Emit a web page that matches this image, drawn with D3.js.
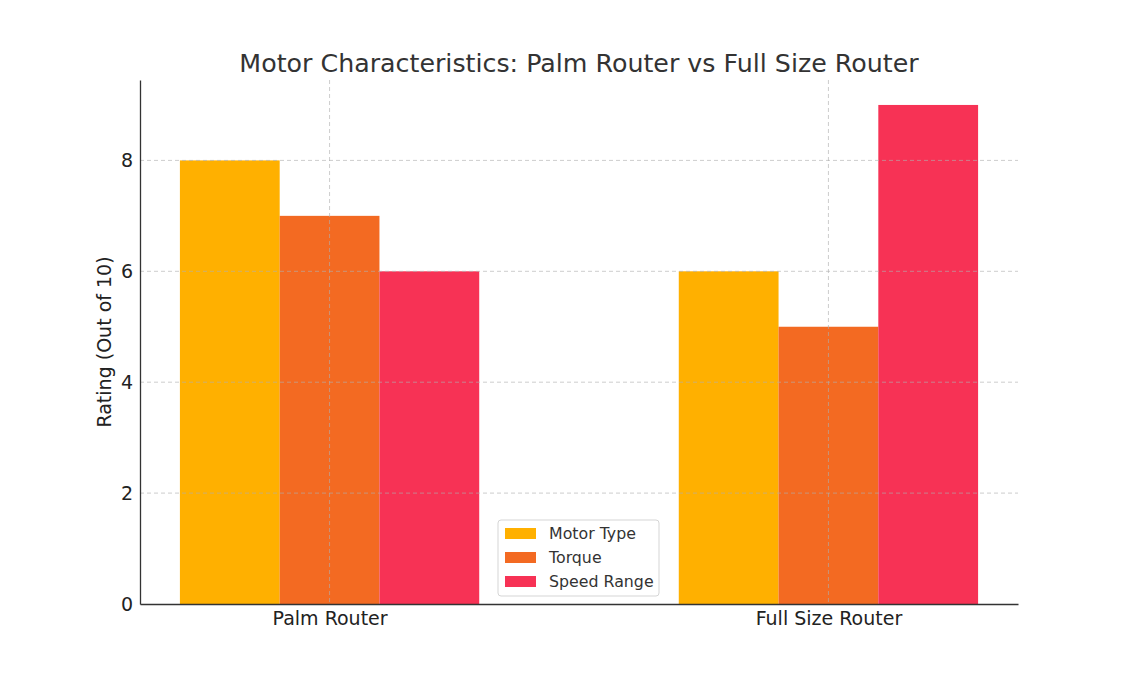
<!DOCTYPE html>
<html>
<head>
<meta charset="utf-8">
<script src="https://cdn.jsdelivr.net/npm/d3@7"></script>
<style>
  body { margin: 0; background: #fff; }
  text { font-family: "DejaVu Sans", sans-serif; }
</style>
</head>
<body>
<script>
const categories = ["Palm Router", "Full Size Router"];
const seriesNames = ["Motor Type", "Torque", "Speed Range"];
const motorType = [8, 6];
const torque = [7, 5];
const speedRange = [6, 9];
const yTicks = [0, 2, 4, 6, 8];
const colors = ["#FFB000", "#F36A22", "#F73255"];

const seriesValues = [motorType, torque, speedRange];
const width = 1128, height = 677;
const margin = {left: 140, right: 110, top: 80, bottom: 73};
const barW = 0.2;

const svg = d3.create("svg")
    .attr("width", width)
    .attr("height", height);
document.body.appendChild(svg.node());

const x = d3.scaleLinear()
    .domain([-0.38, categories.length - 1 + 0.38])
    .range([margin.left, width - margin.right]);
const y = d3.scaleLinear()
    .domain([0, 9.45])
    .range([height - margin.bottom, margin.top]);

const bars = svg.append("g");
seriesValues.forEach(function (vals, s) {
    bars.selectAll(null)
        .data(vals)
        .join("rect")
        .attr("x", (d, i) => x(i + (s - 1) * barW - barW / 2))
        .attr("width", x(barW) - x(0))
        .attr("y", d => y(d))
        .attr("height", d => y(0) - y(d))
        .attr("fill", colors[s]);
});

// grid lines drawn over bars
const grid = svg.append("g")
    .attr("stroke", "#b0b0b0")
    .attr("stroke-opacity", 0.7)
    .attr("stroke-dasharray", "4,3")
    .attr("stroke-width", 0.9);
grid.selectAll(null)
    .data(yTicks.slice(1))
    .join("line")
    .attr("x1", margin.left).attr("x2", width - margin.right)
    .attr("y1", d => y(d)).attr("y2", d => y(d));
grid.selectAll(null)
    .data(categories)
    .join("line")
    .attr("x1", (d, i) => x(i)).attr("x2", (d, i) => x(i))
    .attr("y1", margin.top).attr("y2", height - margin.bottom);

const yAxis = svg.append("g")
    .attr("transform", `translate(${margin.left},0)`)
    .call(d3.axisLeft(y).tickValues(yTicks).tickSize(0).tickPadding(7));
const xAxis = svg.append("g")
    .attr("transform", `translate(0,${height - margin.bottom})`)
    .call(d3.axisBottom(x).tickValues(categories.map((d, i) => i))
        .tickFormat((d, i) => categories[i]).tickSize(0).tickPadding(8));
[xAxis, yAxis].forEach(function (a) {
    a.selectAll("text").attr("font-size", 19).attr("fill", "#222")
        .attr("font-family", "DejaVu Sans");
    a.select(".domain").attr("stroke", "#333").attr("stroke-width", 1.3);
});

svg.append("text")
    .attr("x", (margin.left + width - margin.right) / 2)
    .attr("y", 72)
    .attr("text-anchor", "middle")
    .attr("font-size", 25.3)
    .attr("fill", "#333")
    .text("Motor Characteristics: Palm Router vs Full Size Router");

svg.append("text")
    .attr("transform", `translate(111,${(margin.top + height - margin.bottom) / 2}) rotate(-90)`)
    .attr("text-anchor", "middle")
    .attr("font-size", 19)
    .attr("fill", "#222")
    .text("Rating (Out of 10)");

const legend = svg.append("g").attr("transform", "translate(498,520)");
legend.append("rect")
    .attr("width", 161).attr("height", 76).attr("rx", 3)
    .attr("fill", "#fff").attr("fill-opacity", 0.85)
    .attr("stroke", "#d5d5d5");
seriesNames.forEach(function (name, s) {
    const row = legend.append("g").attr("transform", `translate(7,${13 + s * 24})`);
    row.append("rect").attr("width", 31).attr("height", 11).attr("y", -5)
        .attr("fill", colors[s]);
    row.append("text").attr("x", 44).attr("y", 6)
        .attr("font-size", 15.8).attr("fill", "#333").text(name);
});
</script>
</body>
</html>
